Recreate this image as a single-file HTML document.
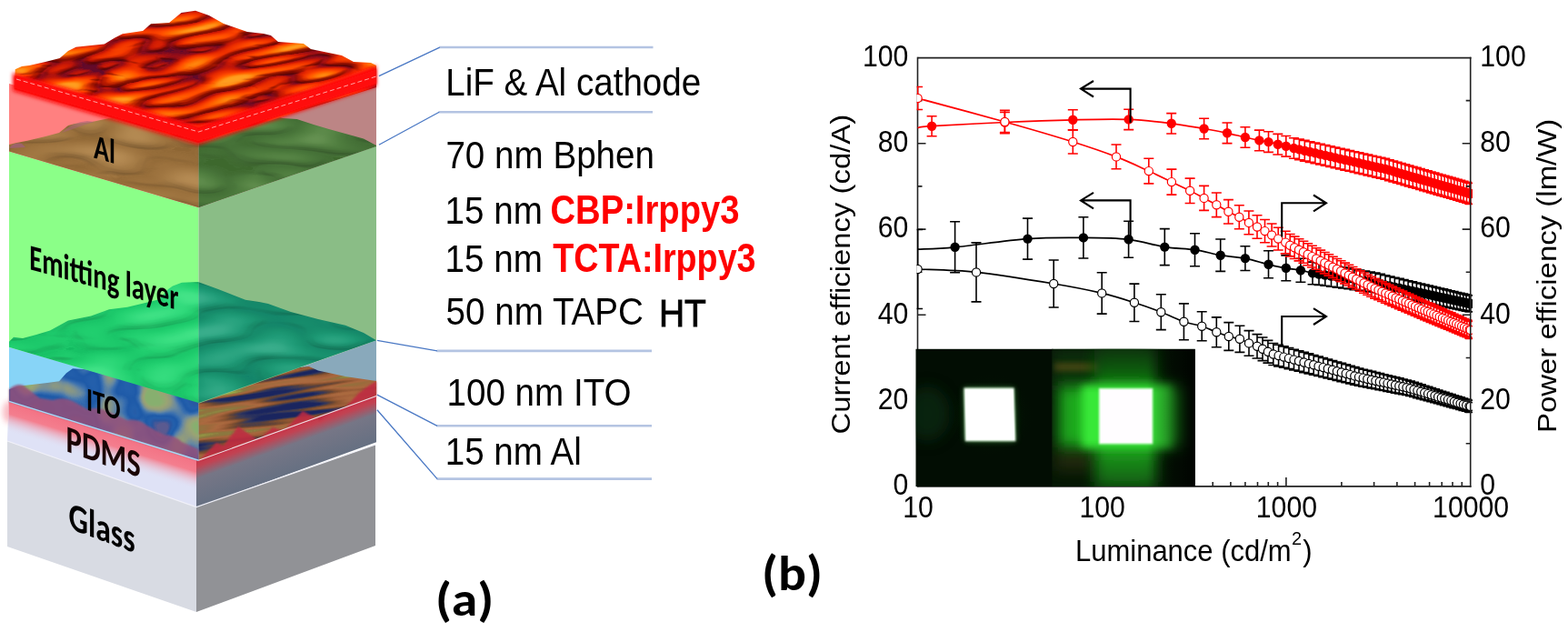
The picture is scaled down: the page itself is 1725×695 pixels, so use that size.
<!DOCTYPE html>
<html><head><meta charset="utf-8"><style>
html,body{margin:0;padding:0;background:#fff;}
body{width:1725px;height:695px;overflow:hidden;}
svg{display:block;}
.ax{font-family:"Liberation Sans",Arial,sans-serif;font-size:31px;fill:#000;}
.mt{font-family:"Liberation Sans",Arial,sans-serif;font-size:40px;fill:#000;}
.lab{font-family:Carlito,Calibri,"Liberation Sans",sans-serif;font-weight:bold;font-size:54px;fill:#000;}
.cal{font-family:Carlito,Calibri,"Liberation Sans",sans-serif;font-weight:bold;fill:#000;}
</style></head><body>
<svg width="1725" height="695" viewBox="0 0 1725 695">
<defs><clipPath id="cL"><rect x="0" y="0" width="218.5" height="695"/></clipPath><clipPath id="cR"><rect x="218.5" y="0" width="300" height="695"/></clipPath><clipPath id="cRed"><polygon points="16.7,76.3 24.0,73.0 32.3,71.9 50.0,68.0 65.7,64.0 75.0,56.0 83.6,51.8 100.0,50.0 114.8,48.5 125.9,41.8 134.8,37.3 157.1,34.0 166.0,26.2 186.1,25.0 199.5,13.9 215.0,11.7 230.0,17.0 246.0,26.0 272.0,35.0 290.0,37.0 298.0,39.0 306.0,46.0 334.0,48.0 342.0,54.0 376.0,61.0 389.0,68.0 408.0,69.0 414.0,72.0 414.0,96.0 218.0,157.0 16.0,98.0"/></clipPath><clipPath id="cAl"><polygon points="10.0,159.0 18.0,157.0 30.0,154.8 50.0,150.0 65.0,146.1 75.0,138.0 82.0,136.0 100.0,134.3 120.0,130.0 140.0,124.0 218.0,118.0 290.0,125.0 311.4,130.0 326.6,131.0 345.0,137.0 361.0,141.8 380.0,147.0 400.0,152.6 414.0,160.0 414.0,161.0 218.5,228.2 10.0,166.6"/></clipPath><clipPath id="cTeal"><polygon points="10.0,375.7 15.0,370.8 25.0,372.0 40.0,368.0 55.0,363.4 75.0,352.4 100.0,347.5 120.0,340.2 140.0,337.7 160.0,333.0 175.0,329.2 185.0,318.0 190.0,314.5 200.0,310.8 218.0,310.0 240.0,318.0 270.0,329.7 285.0,332.0 295.0,334.0 320.0,343.0 350.0,351.0 380.0,357.8 400.0,366.0 414.0,374.3 218.5,443.0 10.0,381.8"/></clipPath><clipPath id="cIto"><polygon points="10.0,428.3 20.0,424.7 50.0,421.3 65.0,419.3 73.0,410.2 80.0,405.2 95.0,406.2 110.0,405.0 218.0,400.0 320.0,402.0 330.0,404.0 340.0,403.0 350.0,407.4 380.0,414.0 414.0,419.0 414.0,435.5 218.5,506.3 10.0,441.4"/></clipPath><filter id="fRed" x="0" y="0" width="1" height="1" color-interpolation-filters="sRGB"><feTurbulence type="turbulence" baseFrequency="0.036 0.07" numOctaves="1" seed="9" result="n"/><feColorMatrix in="n" type="matrix" values="2.00 0 0 0 0.06  2.00 0 0 0 0.06  2.00 0 0 0 0.06  2.00 0 0 0 0.06" result="g0"/><feGaussianBlur in="g0" stdDeviation="1.00" result="g"/><feComponentTransfer in="g" result="c"><feFuncR type="table" tableValues="0.227 0.541 0.784 0.910 0.957 1.000 1.000 1.000 1.000"/><feFuncG type="table" tableValues="0.031 0.047 0.094 0.165 0.227 0.298 0.384 0.486 0.627"/><feFuncB type="table" tableValues="0.220 0.110 0.024 0.000 0.000 0.000 0.000 0.031 0.125"/><feFuncA type="linear" slope="0" intercept="1"/></feComponentTransfer><feComponentTransfer in="g" result="h"><feFuncA type="table" tableValues="0 0.45 0.7 0.85 0.95 1"/></feComponentTransfer><feDiffuseLighting in="h" surfaceScale="6.0" diffuseConstant="1.35" lighting-color="#fff" result="l0"><feDistantLight azimuth="225" elevation="50"/></feDiffuseLighting><feComponentTransfer in="l0" result="l"><feFuncR type="linear" slope="0.50" intercept="0.55"/><feFuncG type="linear" slope="0.75" intercept="0.28"/><feFuncB type="linear" slope="0.60" intercept="0.45"/></feComponentTransfer><feBlend in="c" in2="l" mode="multiply" result="m"/><feComposite in="m" in2="SourceGraphic" operator="in"/></filter><filter id="fAlL" x="0" y="0" width="1" height="1" color-interpolation-filters="sRGB"><feTurbulence type="turbulence" baseFrequency="0.045 0.035" numOctaves="1" seed="11" result="n"/><feColorMatrix in="n" type="matrix" values="2.00 0 0 0 0.00  2.00 0 0 0 0.00  2.00 0 0 0 0.00  2.00 0 0 0 0.00" result="g0"/><feGaussianBlur in="g0" stdDeviation="2.00" result="g"/><feComponentTransfer in="g" result="c"><feFuncR type="table" tableValues="0.557 0.612 0.651 0.690 0.729"/><feFuncG type="table" tableValues="0.400 0.447 0.486 0.525 0.565"/><feFuncB type="table" tableValues="0.204 0.243 0.275 0.310 0.345"/><feFuncA type="linear" slope="0" intercept="1"/></feComponentTransfer><feComponentTransfer in="g" result="h"><feFuncA type="table" tableValues="0 0.45 0.7 0.85 0.95 1"/></feComponentTransfer><feDiffuseLighting in="h" surfaceScale="2.0" diffuseConstant="1.30" lighting-color="#fff" result="l0"><feDistantLight azimuth="225" elevation="50"/></feDiffuseLighting><feComponentTransfer in="l0" result="l"><feFuncR type="linear" slope="0.40" intercept="0.62"/><feFuncG type="linear" slope="0.40" intercept="0.62"/><feFuncB type="linear" slope="0.40" intercept="0.62"/></feComponentTransfer><feBlend in="c" in2="l" mode="multiply" result="m"/><feComposite in="m" in2="SourceGraphic" operator="in"/></filter><filter id="fAlR" x="0" y="0" width="1" height="1" color-interpolation-filters="sRGB"><feTurbulence type="turbulence" baseFrequency="0.045 0.035" numOctaves="1" seed="11" result="n"/><feColorMatrix in="n" type="matrix" values="2.00 0 0 0 0.00  2.00 0 0 0 0.00  2.00 0 0 0 0.00  2.00 0 0 0 0.00" result="g0"/><feGaussianBlur in="g0" stdDeviation="2.00" result="g"/><feComponentTransfer in="g" result="c"><feFuncR type="table" tableValues="0.243 0.275 0.306 0.345 0.408"/><feFuncG type="table" tableValues="0.408 0.447 0.486 0.525 0.580"/><feFuncB type="table" tableValues="0.180 0.220 0.243 0.275 0.329"/><feFuncA type="linear" slope="0" intercept="1"/></feComponentTransfer><feComponentTransfer in="g" result="h"><feFuncA type="table" tableValues="0 0.45 0.7 0.85 0.95 1"/></feComponentTransfer><feDiffuseLighting in="h" surfaceScale="2.0" diffuseConstant="1.30" lighting-color="#fff" result="l0"><feDistantLight azimuth="225" elevation="50"/></feDiffuseLighting><feComponentTransfer in="l0" result="l"><feFuncR type="linear" slope="0.40" intercept="0.62"/><feFuncG type="linear" slope="0.40" intercept="0.62"/><feFuncB type="linear" slope="0.40" intercept="0.62"/></feComponentTransfer><feBlend in="c" in2="l" mode="multiply" result="m"/><feComposite in="m" in2="SourceGraphic" operator="in"/></filter><filter id="fTealL" x="0" y="0" width="1" height="1" color-interpolation-filters="sRGB"><feTurbulence type="turbulence" baseFrequency="0.045 0.035" numOctaves="1" seed="5" result="n"/><feColorMatrix in="n" type="matrix" values="2.00 0 0 0 0.00  2.00 0 0 0 0.00  2.00 0 0 0 0.00  2.00 0 0 0 0.00" result="g0"/><feGaussianBlur in="g0" stdDeviation="2.00" result="g"/><feComponentTransfer in="g" result="c"><feFuncR type="table" tableValues="0.078 0.110 0.133 0.165 0.204 0.267"/><feFuncG type="table" tableValues="0.737 0.784 0.816 0.839 0.863 0.894"/><feFuncB type="table" tableValues="0.384 0.416 0.439 0.463 0.494 0.533"/><feFuncA type="linear" slope="0" intercept="1"/></feComponentTransfer><feComponentTransfer in="g" result="h"><feFuncA type="table" tableValues="0 0.45 0.7 0.85 0.95 1"/></feComponentTransfer><feDiffuseLighting in="h" surfaceScale="2.0" diffuseConstant="1.30" lighting-color="#fff" result="l0"><feDistantLight azimuth="225" elevation="50"/></feDiffuseLighting><feComponentTransfer in="l0" result="l"><feFuncR type="linear" slope="0.40" intercept="0.62"/><feFuncG type="linear" slope="0.40" intercept="0.62"/><feFuncB type="linear" slope="0.40" intercept="0.62"/></feComponentTransfer><feBlend in="c" in2="l" mode="multiply" result="m"/><feComposite in="m" in2="SourceGraphic" operator="in"/></filter><filter id="fTealR" x="0" y="0" width="1" height="1" color-interpolation-filters="sRGB"><feTurbulence type="turbulence" baseFrequency="0.045 0.035" numOctaves="1" seed="5" result="n"/><feColorMatrix in="n" type="matrix" values="2.00 0 0 0 0.00  2.00 0 0 0 0.00  2.00 0 0 0 0.00  2.00 0 0 0 0.00" result="g0"/><feGaussianBlur in="g0" stdDeviation="2.00" result="g"/><feComponentTransfer in="g" result="c"><feFuncR type="table" tableValues="0.071 0.086 0.102 0.125 0.165 0.227"/><feFuncG type="table" tableValues="0.510 0.541 0.580 0.612 0.643 0.682"/><feFuncB type="table" tableValues="0.416 0.416 0.439 0.471 0.502 0.549"/><feFuncA type="linear" slope="0" intercept="1"/></feComponentTransfer><feComponentTransfer in="g" result="h"><feFuncA type="table" tableValues="0 0.45 0.7 0.85 0.95 1"/></feComponentTransfer><feDiffuseLighting in="h" surfaceScale="2.0" diffuseConstant="1.30" lighting-color="#fff" result="l0"><feDistantLight azimuth="225" elevation="50"/></feDiffuseLighting><feComponentTransfer in="l0" result="l"><feFuncR type="linear" slope="0.40" intercept="0.62"/><feFuncG type="linear" slope="0.40" intercept="0.62"/><feFuncB type="linear" slope="0.40" intercept="0.62"/></feComponentTransfer><feBlend in="c" in2="l" mode="multiply" result="m"/><feComposite in="m" in2="SourceGraphic" operator="in"/></filter><filter id="fItoL" x="0" y="0" width="1" height="1" color-interpolation-filters="sRGB"><feTurbulence type="fractalNoise" baseFrequency="0.07 0.022" numOctaves="2" seed="19" result="n"/><feColorMatrix in="n" type="matrix" values="2.10 0 0 0 -0.55  2.10 0 0 0 -0.55  2.10 0 0 0 -0.55  2.10 0 0 0 -0.55" result="g0"/><feGaussianBlur in="g0" stdDeviation="0.00" result="g"/><feComponentTransfer in="g" result="c"><feFuncR type="table" tableValues="0.353 0.165 0.141 0.118 0.227 0.416 0.557 0.604 0.533"/><feFuncG type="table" tableValues="0.353 0.337 0.376 0.353 0.439 0.541 0.604 0.643 0.690"/><feFuncB type="table" tableValues="0.565 0.627 0.675 0.659 0.690 0.627 0.502 0.455 0.439"/><feFuncA type="linear" slope="0" intercept="1"/></feComponentTransfer><feComposite in="c" in2="SourceGraphic" operator="in"/></filter><filter id="fItoR" x="0" y="0" width="1" height="1" color-interpolation-filters="sRGB"><feTurbulence type="fractalNoise" baseFrequency="0.008 0.11" numOctaves="2" seed="23" result="n"/><feColorMatrix in="n" type="matrix" values="2.20 0 0 0 -0.60  2.20 0 0 0 -0.60  2.20 0 0 0 -0.60  2.20 0 0 0 -0.60" result="g0"/><feGaussianBlur in="g0" stdDeviation="0.00" result="g"/><feComponentTransfer in="g" result="c"><feFuncR type="table" tableValues="0.102 0.204 0.369 0.525 0.627 0.675 0.612 0.541 0.604"/><feFuncG type="table" tableValues="0.149 0.220 0.259 0.322 0.376 0.416 0.416 0.478 0.667"/><feFuncB type="table" tableValues="0.376 0.361 0.220 0.184 0.227 0.251 0.235 0.251 0.282"/><feFuncA type="linear" slope="0" intercept="1"/></feComponentTransfer><feComposite in="c" in2="SourceGraphic" operator="in"/></filter><filter id="bl4" x="-30%" y="-60%" width="160%" height="220%"><feGaussianBlur stdDeviation="3"/></filter><filter id="bl25" x="-10%" y="-60%" width="120%" height="220%"><feGaussianBlur stdDeviation="2.2"/></filter><filter id="bl1s" x="-5%" y="-30%" width="110%" height="160%"><feGaussianBlur stdDeviation="0.8"/></filter><linearGradient id="gPdmsL" gradientUnits="userSpaceOnUse" x1="0" y1="0" x2="0" y2="1"><stop offset="0" stop-color="#f5788a"/><stop offset="1" stop-color="#dfe3f7"/></linearGradient><linearGradient id="gPL" x1="0" y1="0" x2="0" y2="1"><stop offset="0" stop-color="#f37284"/><stop offset="0.4" stop-color="#f47e8e"/><stop offset="1" stop-color="#dfe2f6" stop-opacity="0"/></linearGradient><clipPath id="cOutL"><rect x="0" y="400" width="9.5" height="100"/></clipPath><linearGradient id="gPR" x1="0" y1="0" x2="0" y2="1"><stop offset="0" stop-color="#c8364a"/><stop offset="0.14" stop-color="#c24252"/><stop offset="0.4" stop-color="#767686"/><stop offset="1" stop-color="#667082"/></linearGradient></defs>
<polygon points="8.0,485.0 216.0,557.5 216.0,673.0 8.0,601.0" fill="#d8dbe3"/>
<polygon points="216.0,557.5 413.0,489.0 413.0,600.0 216.0,673.0" fill="#919296"/>
<polygon points="9.5,441.4 217.0,506.0 216.0,557.5 8.0,485.0" fill="#dfe2f6"/>
<g transform="skewY(17.2)"><rect x="9.5" y="438.4" width="207" height="34" fill="url(#gPL)"/></g>
<g clip-path="url(#cOutL)"><ellipse cx="10" cy="453" rx="7" ry="12" fill="#f8aab4" opacity="0.8" filter="url(#bl4)"/></g>
<g transform="skewY(-19.9)"><rect x="216" y="584.2" width="198" height="52" fill="url(#gPR)"/></g>
<polygon points="10.0,381.8 218.5,441.7 218.5,506.3 10.0,441.4" fill="#87d4f7"/>
<polygon points="218.5,443.8 414.0,374.3 414.0,435.5 218.5,506.3" fill="#89a9bb"/>
<g clip-path="url(#cL)"><g clip-path="url(#cIto)"><g transform="matrix(-2.0400,0.6940,2.0000,0.6350,214.00,372.00)"><g transform="rotate(-45 50 50)"><rect x="-40" y="-40" width="180" height="180" fill="#fff" filter="url(#fItoL)"/></g></g></g></g>
<g clip-path="url(#cR)"><g clip-path="url(#cIto)"><g transform="rotate(-8 316 450)"><rect x="200" y="360" width="240" height="170" fill="#fff" filter="url(#fItoR)"/></g></g></g>
<path d="M10,441.4 L10,428 Q18,421 26,424 L44,438 L58,440 Q70,436 80,441 L96,450 Q110,447 122,454 L140,462 Q152,460 162,468 L180,478 Q192,478 200,486 L218.5,494 L218.5,506.3 Z" fill="#94507a" opacity="0.85" filter="url(#bl1s)"/>
<path d="M219,506.3 L238,487 L246,490 L262,469 L284,484 L300,470 L312,474 L333,452 L352,462 L366,452 L380,448 L395,432 L406,424 L414,419 L414,436 L218.5,506.3 Z" fill="#c02a42" opacity="0.88" filter="url(#bl1s)"/>
<polyline points="10.0,441.4 218.5,506.3" fill="none" stroke="#a8d8f4" stroke-width="1.5"/>
<polyline points="218.5,506.3 414.0,435.5" fill="none" stroke="#f4dce4" stroke-width="1.1"/>
<polyline points="8.0,485.0 216.0,557.5 413.0,489.0" fill="none" stroke="#f0f0f8" stroke-width="1.2"/>
<polygon points="10.0,166.6 218.5,228.2 218.5,441.7 10.0,381.8" fill="#8bff88"/>
<polygon points="218.5,228.2 414.0,160.8 414.0,374.3 218.5,443.8" fill="#8abd86"/>
<g clip-path="url(#cL)"><g clip-path="url(#cTeal)"><g transform="matrix(-2.0400,0.6880,2.0000,0.6130,214.00,313.00)"><rect x="-40" y="-40" width="180" height="180" fill="#fff" filter="url(#fTealL)"/></g></g></g>
<g clip-path="url(#cR)"><g clip-path="url(#cTeal)"><g transform="matrix(-2.0400,0.6880,2.0000,0.6130,214.00,313.00)"><rect x="-40" y="-40" width="180" height="180" fill="#fff" filter="url(#fTealR)"/></g></g></g>
<polygon points="10.0,92.0 218.5,152.0 218.5,228.2 10.0,166.6" fill="#ff8080"/>
<polygon points="218.5,152.0 414.0,92.0 414.0,160.8 218.5,228.2" fill="#bc8585"/>
<g clip-path="url(#cL)"><g clip-path="url(#cAl)"><g transform="matrix(-2.0400,0.6660,2.0000,0.6080,214.00,100.00)"><rect x="-40" y="-40" width="180" height="180" fill="#fff" filter="url(#fAlL)"/></g></g></g>
<g clip-path="url(#cR)"><g clip-path="url(#cAl)"><g transform="matrix(-2.0400,0.6660,2.0000,0.6080,214.00,100.00)"><rect x="-40" y="-40" width="180" height="180" fill="#fff" filter="url(#fAlR)"/></g></g></g>
<path d="M10,163 Q16,156 24,158 L28,162 Z" fill="#a06078" opacity="0.8"/>
<path d="M68,146 Q80,134 96,133 L104,134 Q90,138 80,142 Z" fill="#a46478" opacity="0.55"/>
<g clip-path="url(#cRed)"><g transform="matrix(-1.9600,0.6100,2.0000,0.5800,214.00,26.00)"><rect x="-30" y="-30" width="160" height="160" fill="#fff" filter="url(#fRed)"/></g></g>
<polygon points="14.0,80.0 218.5,138.0 414.0,72.0 414.0,95.0 218.5,159.0 14.0,100.0" fill="#ff0a0a" filter="url(#bl25)"/>
<polygon points="16.0,84.0 218.5,141.5 414.0,76.0 414.0,92.0 218.5,155.5 16.0,97.0" fill="#ff0808" filter="url(#bl1s)"/>
<polyline points="18.0,87.0 218.5,145.0 414.0,84.0" fill="none" stroke="#ffc8c8" stroke-width="1" stroke-dasharray="5 3" opacity="0.8"/>
<text transform="translate(32.2,296) skewY(15.3) scale(0.718,1)" class="cal" style="font-size:40px" textLength="228.76" lengthAdjust="spacingAndGlyphs">Emitting layer</text>
<text transform="translate(103,173.6) skewY(15.3) scale(0.74,1)" class="cal" style="font-size:38px" textLength="32.36" lengthAdjust="spacingAndGlyphs">Al</text>
<text transform="translate(95,450.5) skewY(17.5) scale(0.74,1)" class="cal" style="font-size:36px" textLength="50.79" lengthAdjust="spacingAndGlyphs">ITO</text>
<text transform="translate(72.5,496) skewY(19.8) scale(0.78,1)" class="cal" style="font-size:42px;fill:#1a0505" textLength="105.35" lengthAdjust="spacingAndGlyphs">PDMS</text>
<text transform="translate(75.5,581) skewY(20.5) scale(0.774,1)" class="cal" style="font-size:43.5px" textLength="94.57" lengthAdjust="spacingAndGlyphs">Glass</text>
<path d="M483.2,52H718.5M482.7,123.3H718M480.5,385.9H717M480.5,468.2H717M480.5,526.6H717" fill="none" stroke="#b4c4e2" stroke-width="2.6"/>
<path d="M416.9,83.7L483.7,52.2M416.9,159.2L483.2,123.3M414.9,374.4L481,385.9M414.9,434.1L481,468.3M414.9,450.7L481,526.6" fill="none" stroke="#4a78c4" stroke-width="1.3"/>
<text transform="translate(490.2,104.7) scale(0.965,1.07)" class="mt">LiF &amp; Al cathode</text>
<text transform="translate(490.4,185.3) scale(0.965,1.07)" class="mt">70 nm Bphen</text>
<text transform="translate(489.6,245.6) scale(0.965,1.07)" class="mt">15 nm</text>
<text transform="translate(605.4,245.6) scale(0.956,1.1)" class="mt" style="fill:#f00;font-weight:bold">CBP:Irppy3</text>
<text transform="translate(489.6,298.8) scale(0.965,1.07)" class="mt">15 nm</text>
<text transform="translate(608.3,298.8) scale(0.942,1.1)" class="mt" style="fill:#f00;font-weight:bold">TCTA:Irppy3</text>
<text transform="translate(490.6,357.3) scale(0.965,1.07)" class="mt">50 nm TAPC</text>
<text transform="translate(724.9,359.0) scale(0.975,1.065)" class="mt" style="stroke:#000;stroke-width:0.9px">HT</text>
<text transform="translate(491.5,445.6) scale(0.965,1.07)" class="mt">100 nm ITO</text>
<text transform="translate(489.7,511.2) scale(0.965,1.07)" class="mt">15 nm Al</text>
<text transform="translate(478.9,677.3) scale(1.068,0.99)" class="lab" textLength="60.30" lengthAdjust="spacingAndGlyphs">(a)</text>
<text transform="translate(838.1,648.8) scale(1.068,1.0)" class="lab" textLength="62.62" lengthAdjust="spacingAndGlyphs">(b)</text>
<g id="chart">
<path d="M1618.5,63.6V63.6H1009.5M1009.5,534.9H1618.5" fill="none" stroke="#222" stroke-width="1.6"/>
<path d="M1009.5,62.8V535.7" fill="none" stroke="#222" stroke-width="1.6"/>
<path d="M1009.5,487.8H1014.5M1009.5,440.6H1018.5M1009.5,393.5H1014.5M1009.5,346.3H1018.5M1009.5,299.2H1014.5M1009.5,252.1H1018.5M1009.5,204.9H1014.5M1009.5,157.8H1018.5M1009.5,110.6H1014.5M1070.5,534.9V529.9M1106.2,534.9V529.9M1131.5,534.9V529.9M1151.2,534.9V529.9M1167.2,534.9V529.9M1180.8,534.9V529.9M1192.6,534.9V529.9M1202.9,534.9V529.9M1212.2,534.9V524.9M1273.2,534.9V529.9M1308.9,534.9V529.9M1334.2,534.9V529.9M1353.9,534.9V529.9M1369.9,534.9V529.9M1383.5,534.9V529.9M1395.3,534.9V529.9M1405.6,534.9V529.9M1414.9,534.9V524.9M1475.9,534.9V529.9M1511.6,534.9V529.9M1536.9,534.9V529.9M1556.6,534.9V529.9M1572.6,534.9V529.9M1586.2,534.9V529.9M1598.0,534.9V529.9M1608.3,534.9V529.9" fill="none" stroke="#222" stroke-width="1.6"/>
<clipPath id="plotclip"><rect x="1008.6" y="60" width="611.4" height="480"/></clipPath>
<g clip-path="url(#plotclip)">
<path d="M1009.5,296.0 C1020.2,296.6 1049.0,296.7 1074.0,299.4 C1099.0,302.1 1136.2,308.2 1159.2,312.0 C1182.2,315.8 1197.4,318.9 1212.2,322.4 C1227.0,325.9 1237.1,329.3 1247.9,332.8 C1258.8,336.3 1268.2,339.7 1277.3,343.2 C1286.4,346.7 1294.9,351.2 1302.4,353.8 C1309.9,356.4 1316.2,356.8 1322.2,358.7 C1328.2,360.6 1333.4,363.4 1338.3,365.3 C1343.2,367.2 1347.5,368.8 1351.8,370.0 C1356.1,371.2 1360.2,371.6 1363.9,372.8 C1367.6,374.0 1370.8,376.1 1374.0,377.4 C1377.2,378.7 1380.5,379.7 1383.0,380.8 C1385.5,381.9 1387.0,382.8 1389.0,383.8 C1391.0,384.8 1393.0,385.8 1394.9,386.8 C1396.9,387.7 1398.8,388.8 1400.8,389.5 C1402.7,390.2 1404.7,390.5 1406.6,391.1 C1408.5,391.6 1410.4,392.1 1412.3,392.6 C1414.2,393.1 1416.1,393.6 1417.9,394.1 C1419.8,394.6 1421.7,395.1 1423.5,395.6 C1425.4,396.1 1427.2,396.5 1429.0,397.0 C1430.9,397.5 1432.7,398.0 1434.5,398.5 C1436.3,399.0 1438.1,399.4 1439.9,399.9 C1441.7,400.4 1443.4,400.9 1445.2,401.3 C1447.0,401.8 1448.7,402.3 1450.5,402.7 C1452.2,403.2 1453.9,403.7 1455.7,404.1 C1457.4,404.6 1459.1,405.0 1460.8,405.5 C1462.5,405.9 1464.2,406.4 1465.9,406.8 C1467.5,407.3 1469.2,407.7 1470.9,408.2 C1472.5,408.6 1474.2,409.1 1475.8,409.5 C1477.5,409.9 1479.1,410.4 1480.7,410.8 C1482.3,411.2 1483.9,411.7 1485.5,412.1 C1487.2,412.5 1488.7,412.9 1490.3,413.4 C1491.9,413.8 1493.5,414.2 1495.0,414.6 C1496.6,415.0 1498.2,415.3 1499.7,415.6 C1501.3,416.0 1502.8,416.3 1504.3,416.7 C1505.8,417.0 1507.4,417.3 1508.9,417.7 C1510.4,418.0 1511.9,418.3 1513.4,418.7 C1514.9,419.0 1516.3,419.3 1517.8,419.7 C1519.3,420.0 1520.7,420.3 1522.2,420.6 C1523.7,421.0 1525.1,421.3 1526.5,421.6 C1528.0,421.9 1529.4,422.2 1530.8,422.5 C1532.3,422.9 1533.7,423.2 1535.1,423.5 C1536.5,423.8 1537.9,424.1 1539.3,424.4 C1540.6,424.7 1542.0,425.0 1543.4,425.3 C1544.8,425.6 1546.1,425.9 1547.5,426.2 C1548.8,426.6 1550.2,426.9 1551.5,427.3 C1552.9,427.6 1554.2,428.0 1555.5,428.4 C1556.8,428.8 1558.1,429.2 1559.4,429.6 C1560.8,430.0 1562.0,430.4 1563.3,430.8 C1564.6,431.2 1565.9,431.5 1567.2,431.9 C1568.5,432.3 1569.7,432.7 1571.0,433.1 C1572.3,433.4 1573.5,433.8 1574.7,434.2 C1576.0,434.6 1577.2,434.9 1578.5,435.3 C1579.7,435.7 1580.9,436.0 1582.1,436.4 C1583.3,436.7 1584.6,437.1 1585.8,437.5 C1587.0,437.8 1588.1,438.2 1589.3,438.5 C1590.5,438.9 1591.7,439.2 1592.9,439.6 C1594.0,439.9 1595.2,440.3 1596.4,440.6 C1597.5,441.0 1598.7,441.3 1599.8,441.7 C1601.0,442.0 1602.1,442.3 1603.2,442.7 C1604.4,443.0 1605.5,443.4 1606.6,443.7 C1607.7,444.0 1608.8,444.4 1609.9,444.7 C1611.0,445.0 1612.1,445.3 1613.2,445.7 C1614.3,446.0 1615.7,446.4 1616.5,446.6 C1617.2,446.9 1617.5,446.9 1617.7,447.0" fill="none" stroke="#000" stroke-width="1.7"/>
<path d="M1009.6,252.5V339.5M1004.1,252.5H1015.1M1004.1,339.5H1015.1M1074.0,266.9V331.9M1068.5,266.9H1079.5M1068.5,331.9H1079.5M1159.2,286.0V338.0M1153.7,286.0H1164.7M1153.7,338.0H1164.7M1212.2,299.7V345.1M1206.7,299.7H1217.7M1206.7,345.1H1217.7M1247.9,312.1V353.5M1242.4,312.1H1253.4M1242.4,353.5H1253.4M1277.3,323.8V362.6M1271.8,323.8H1282.8M1271.8,362.6H1282.8M1302.4,333.9V373.7M1296.9,333.9H1307.9M1296.9,373.7H1307.9M1322.2,342.7V374.7M1316.7,342.7H1327.7M1316.7,374.7H1327.7M1338.3,348.9V381.7M1332.8,348.9H1343.8M1332.8,381.7H1343.8M1351.8,354.6V385.4M1346.3,354.6H1357.3M1346.3,385.4H1357.3M1363.9,358.2V387.4M1358.4,358.2H1369.4M1358.4,387.4H1369.4M1374.0,363.6V391.2M1368.5,363.6H1379.5M1368.5,391.2H1379.5M1383.0,367.6V394.0M1377.5,367.6H1388.5M1377.5,394.0H1388.5M1389.0,371.0V396.6M1383.5,371.0H1394.5M1383.5,396.6H1394.5M1394.9,374.4V399.1M1389.4,374.4H1400.4M1389.4,399.1H1400.4M1400.8,377.5V401.5M1395.3,377.5H1406.3M1395.3,401.5H1406.3M1406.6,379.2V402.9M1401.1,379.2H1412.1M1401.1,402.9H1412.1M1412.3,380.9V404.3M1406.8,380.9H1417.8M1406.8,404.3H1417.8M1417.9,382.5V405.6M1412.4,382.5H1423.4M1412.4,405.6H1423.4M1423.5,384.2V407.0M1418.0,384.2H1429.0M1418.0,407.0H1429.0M1429.0,385.8V408.3M1423.5,385.8H1434.5M1423.5,408.3H1434.5M1434.5,387.4V409.6M1429.0,387.4H1440.0M1429.0,409.6H1440.0M1439.9,388.9V410.9M1434.4,388.9H1445.4M1434.4,410.9H1445.4M1445.2,390.5V412.2M1439.7,390.5H1450.7M1439.7,412.2H1450.7M1450.5,392.0V413.5M1445.0,392.0H1456.0M1445.0,413.5H1456.0M1455.7,393.5V414.7M1450.2,393.5H1461.2M1450.2,414.7H1461.2M1460.8,395.0V416.0M1455.3,395.0H1466.3M1455.3,416.0H1466.3M1465.9,396.5V417.2M1460.4,396.5H1471.4M1460.4,417.2H1471.4M1470.9,398.0V418.4M1465.4,398.0H1476.4M1465.4,418.4H1476.4M1475.8,399.4V419.6M1470.3,399.4H1481.3M1470.3,419.6H1481.3M1480.7,400.8V420.8M1475.2,400.8H1486.2M1475.2,420.8H1486.2M1485.5,402.2V421.9M1480.0,402.2H1491.0M1480.0,421.9H1491.0M1490.3,403.6V423.1M1484.8,403.6H1495.8M1484.8,423.1H1495.8M1495.0,405.0V424.2M1489.5,405.0H1500.5M1489.5,424.2H1500.5M1499.7,406.2V425.1M1494.2,406.2H1505.2M1494.2,425.1H1505.2M1504.3,407.3V426.0M1498.8,407.3H1509.8M1498.8,426.0H1509.8M1508.9,408.4V426.9M1503.4,408.4H1514.4M1503.4,426.9H1514.4M1513.4,409.5V427.8M1507.9,409.5H1518.9M1507.9,427.8H1518.9M1517.8,410.6V428.7M1512.3,410.6H1523.3M1512.3,428.7H1523.3M1522.2,411.7V429.5M1516.7,411.7H1527.7M1516.7,429.5H1527.7M1526.5,412.8V430.4M1521.0,412.8H1532.0M1521.0,430.4H1532.0M1530.8,413.9V431.2M1525.3,413.9H1536.3M1525.3,431.2H1536.3M1535.1,414.9V432.1M1529.6,414.9H1540.6M1529.6,432.1H1540.6M1539.3,415.9V432.9M1533.8,415.9H1544.8M1533.8,432.9H1544.8M1543.4,417.0V433.7M1537.9,417.0H1548.9M1537.9,433.7H1548.9M1547.5,418.0V434.5M1542.0,418.0H1553.0M1542.0,434.5H1553.0M1551.5,419.1V435.4M1546.0,419.1H1557.0M1546.0,435.4H1557.0M1555.5,420.4V436.5M1550.0,420.4H1561.0M1550.0,436.5H1561.0M1559.4,421.6V437.6M1553.9,421.6H1564.9M1553.9,437.6H1564.9M1563.3,422.9V438.7M1557.8,422.9H1568.8M1557.8,438.7H1568.8M1567.2,424.2V439.7M1561.7,424.2H1572.7M1561.7,439.7H1572.7M1571.0,425.4V440.7M1565.5,425.4H1576.5M1565.5,440.7H1576.5M1574.7,426.6V441.8M1569.2,426.6H1580.2M1569.2,441.8H1580.2M1578.5,427.8V442.8M1573.0,427.8H1584.0M1573.0,442.8H1584.0M1582.1,429.0V443.8M1576.6,429.0H1587.6M1576.6,443.8H1587.6M1585.8,430.2V444.8M1580.3,430.2H1591.3M1580.3,444.8H1591.3M1589.3,431.3V445.8M1583.8,431.3H1594.8M1583.8,445.8H1594.8M1592.9,432.5V446.7M1587.4,432.5H1598.4M1587.4,446.7H1598.4M1596.4,433.6V447.7M1590.9,433.6H1601.9M1590.9,447.7H1601.9M1599.8,434.7V448.6M1594.3,434.7H1605.3M1594.3,448.6H1605.3M1603.2,435.8V449.5M1597.7,435.8H1608.7M1597.7,449.5H1608.7M1606.6,436.9V450.5M1601.1,436.9H1612.1M1601.1,450.5H1612.1M1609.9,438.0V451.4M1604.4,438.0H1615.4M1604.4,451.4H1615.4M1613.2,439.1V452.3M1607.7,439.1H1618.7M1607.7,452.3H1618.7M1616.5,440.1V453.2M1611.0,440.1H1622.0M1611.0,453.2H1622.0M1617.7,440.5V453.5M1612.2,440.5H1623.2M1612.2,453.5H1623.2" fill="none" stroke="#000" stroke-width="1.6"/>
<circle cx="1009.6" cy="296.0" r="4.6" fill="#fff" stroke="#000" stroke-width="1.2"/>
<circle cx="1074.0" cy="299.4" r="4.6" fill="#fff" stroke="#000" stroke-width="1.2"/>
<circle cx="1159.2" cy="312.0" r="4.6" fill="#fff" stroke="#000" stroke-width="1.2"/>
<circle cx="1212.2" cy="322.4" r="4.6" fill="#fff" stroke="#000" stroke-width="1.2"/>
<circle cx="1247.9" cy="332.8" r="4.6" fill="#fff" stroke="#000" stroke-width="1.2"/>
<circle cx="1277.3" cy="343.2" r="4.6" fill="#fff" stroke="#000" stroke-width="1.2"/>
<circle cx="1302.4" cy="353.8" r="4.6" fill="#fff" stroke="#000" stroke-width="1.2"/>
<circle cx="1322.2" cy="358.7" r="4.6" fill="#fff" stroke="#000" stroke-width="1.2"/>
<circle cx="1338.3" cy="365.3" r="4.6" fill="#fff" stroke="#000" stroke-width="1.2"/>
<circle cx="1351.8" cy="370.0" r="4.6" fill="#fff" stroke="#000" stroke-width="1.2"/>
<circle cx="1363.9" cy="372.8" r="4.6" fill="#fff" stroke="#000" stroke-width="1.2"/>
<circle cx="1374.0" cy="377.4" r="4.6" fill="#fff" stroke="#000" stroke-width="1.2"/>
<circle cx="1383.0" cy="380.8" r="4.6" fill="#fff" stroke="#000" stroke-width="1.2"/>
<circle cx="1389.0" cy="383.8" r="4.6" fill="#fff" stroke="#000" stroke-width="1.2"/>
<circle cx="1394.9" cy="386.8" r="4.6" fill="#fff" stroke="#000" stroke-width="1.2"/>
<circle cx="1400.8" cy="389.5" r="4.6" fill="#fff" stroke="#000" stroke-width="1.2"/>
<circle cx="1406.6" cy="391.1" r="4.6" fill="#fff" stroke="#000" stroke-width="1.2"/>
<circle cx="1412.3" cy="392.6" r="4.6" fill="#fff" stroke="#000" stroke-width="1.2"/>
<circle cx="1417.9" cy="394.1" r="4.6" fill="#fff" stroke="#000" stroke-width="1.2"/>
<circle cx="1423.5" cy="395.6" r="4.6" fill="#fff" stroke="#000" stroke-width="1.2"/>
<circle cx="1429.0" cy="397.0" r="4.6" fill="#fff" stroke="#000" stroke-width="1.2"/>
<circle cx="1434.5" cy="398.5" r="4.6" fill="#fff" stroke="#000" stroke-width="1.2"/>
<circle cx="1439.9" cy="399.9" r="4.6" fill="#fff" stroke="#000" stroke-width="1.2"/>
<circle cx="1445.2" cy="401.3" r="4.6" fill="#fff" stroke="#000" stroke-width="1.2"/>
<circle cx="1450.5" cy="402.7" r="4.6" fill="#fff" stroke="#000" stroke-width="1.2"/>
<circle cx="1455.7" cy="404.1" r="4.6" fill="#fff" stroke="#000" stroke-width="1.2"/>
<circle cx="1460.8" cy="405.5" r="4.6" fill="#fff" stroke="#000" stroke-width="1.2"/>
<circle cx="1465.9" cy="406.8" r="4.6" fill="#fff" stroke="#000" stroke-width="1.2"/>
<circle cx="1470.9" cy="408.2" r="4.6" fill="#fff" stroke="#000" stroke-width="1.2"/>
<circle cx="1475.8" cy="409.5" r="4.6" fill="#fff" stroke="#000" stroke-width="1.2"/>
<circle cx="1480.7" cy="410.8" r="4.6" fill="#fff" stroke="#000" stroke-width="1.2"/>
<circle cx="1485.5" cy="412.1" r="4.6" fill="#fff" stroke="#000" stroke-width="1.2"/>
<circle cx="1490.3" cy="413.4" r="4.6" fill="#fff" stroke="#000" stroke-width="1.2"/>
<circle cx="1495.0" cy="414.6" r="4.6" fill="#fff" stroke="#000" stroke-width="1.2"/>
<circle cx="1499.7" cy="415.6" r="4.6" fill="#fff" stroke="#000" stroke-width="1.2"/>
<circle cx="1504.3" cy="416.7" r="4.6" fill="#fff" stroke="#000" stroke-width="1.2"/>
<circle cx="1508.9" cy="417.7" r="4.6" fill="#fff" stroke="#000" stroke-width="1.2"/>
<circle cx="1513.4" cy="418.7" r="4.6" fill="#fff" stroke="#000" stroke-width="1.2"/>
<circle cx="1517.8" cy="419.7" r="4.6" fill="#fff" stroke="#000" stroke-width="1.2"/>
<circle cx="1522.2" cy="420.6" r="4.6" fill="#fff" stroke="#000" stroke-width="1.2"/>
<circle cx="1526.5" cy="421.6" r="4.6" fill="#fff" stroke="#000" stroke-width="1.2"/>
<circle cx="1530.8" cy="422.5" r="4.6" fill="#fff" stroke="#000" stroke-width="1.2"/>
<circle cx="1535.1" cy="423.5" r="4.6" fill="#fff" stroke="#000" stroke-width="1.2"/>
<circle cx="1539.3" cy="424.4" r="4.6" fill="#fff" stroke="#000" stroke-width="1.2"/>
<circle cx="1543.4" cy="425.3" r="4.6" fill="#fff" stroke="#000" stroke-width="1.2"/>
<circle cx="1547.5" cy="426.2" r="4.6" fill="#fff" stroke="#000" stroke-width="1.2"/>
<circle cx="1551.5" cy="427.3" r="4.6" fill="#fff" stroke="#000" stroke-width="1.2"/>
<circle cx="1555.5" cy="428.4" r="4.6" fill="#fff" stroke="#000" stroke-width="1.2"/>
<circle cx="1559.4" cy="429.6" r="4.6" fill="#fff" stroke="#000" stroke-width="1.2"/>
<circle cx="1563.3" cy="430.8" r="4.6" fill="#fff" stroke="#000" stroke-width="1.2"/>
<circle cx="1567.2" cy="431.9" r="4.6" fill="#fff" stroke="#000" stroke-width="1.2"/>
<circle cx="1571.0" cy="433.1" r="4.6" fill="#fff" stroke="#000" stroke-width="1.2"/>
<circle cx="1574.7" cy="434.2" r="4.6" fill="#fff" stroke="#000" stroke-width="1.2"/>
<circle cx="1578.5" cy="435.3" r="4.6" fill="#fff" stroke="#000" stroke-width="1.2"/>
<circle cx="1582.1" cy="436.4" r="4.6" fill="#fff" stroke="#000" stroke-width="1.2"/>
<circle cx="1585.8" cy="437.5" r="4.6" fill="#fff" stroke="#000" stroke-width="1.2"/>
<circle cx="1589.3" cy="438.5" r="4.6" fill="#fff" stroke="#000" stroke-width="1.2"/>
<circle cx="1592.9" cy="439.6" r="4.6" fill="#fff" stroke="#000" stroke-width="1.2"/>
<circle cx="1596.4" cy="440.6" r="4.6" fill="#fff" stroke="#000" stroke-width="1.2"/>
<circle cx="1599.8" cy="441.7" r="4.6" fill="#fff" stroke="#000" stroke-width="1.2"/>
<circle cx="1603.2" cy="442.7" r="4.6" fill="#fff" stroke="#000" stroke-width="1.2"/>
<circle cx="1606.6" cy="443.7" r="4.6" fill="#fff" stroke="#000" stroke-width="1.2"/>
<circle cx="1609.9" cy="444.7" r="4.6" fill="#fff" stroke="#000" stroke-width="1.2"/>
<circle cx="1613.2" cy="445.7" r="4.6" fill="#fff" stroke="#000" stroke-width="1.2"/>
<circle cx="1616.5" cy="446.6" r="4.6" fill="#fff" stroke="#000" stroke-width="1.2"/>
<circle cx="1617.7" cy="447.0" r="4.6" fill="#fff" stroke="#000" stroke-width="1.2"/>
<path d="M1009.5,274.1 C1016.4,273.7 1030.4,273.7 1050.6,271.8 C1070.8,269.9 1107.0,264.3 1130.5,262.6 C1154.0,260.9 1173.4,261.3 1191.9,261.4 C1210.4,261.5 1226.7,261.6 1241.6,263.3 C1256.5,265.0 1269.1,269.7 1281.3,271.6 C1293.5,273.5 1304.3,273.2 1314.5,274.7 C1324.7,276.2 1333.5,279.1 1342.7,280.7 C1351.9,282.3 1361.1,282.4 1369.9,284.1 C1378.7,285.8 1388.0,289.0 1395.5,290.8 C1403.0,292.6 1408.9,293.7 1414.8,294.8 C1420.7,295.9 1426.0,296.3 1430.9,297.2 C1435.8,298.1 1440.7,299.7 1444.0,300.4 C1447.3,301.1 1448.7,301.1 1451.0,301.5 C1453.3,301.8 1455.6,302.1 1457.8,302.5 C1460.1,302.8 1462.3,303.2 1464.5,303.5 C1466.8,303.8 1468.9,304.2 1471.1,304.5 C1473.3,304.8 1475.4,305.1 1477.5,305.5 C1479.6,305.8 1481.7,306.1 1483.8,306.4 C1485.8,306.7 1487.9,307.0 1489.9,307.3 C1491.9,307.6 1493.9,307.9 1495.9,308.2 C1497.9,308.5 1499.8,308.8 1501.8,309.1 C1503.7,309.4 1505.6,309.7 1507.5,310.0 C1509.4,310.3 1511.3,310.6 1513.1,311.0 C1515.0,311.3 1516.8,311.8 1518.6,312.2 C1520.4,312.6 1522.2,313.0 1524.0,313.4 C1525.7,313.8 1527.5,314.2 1529.2,314.5 C1530.9,314.9 1532.7,315.3 1534.3,315.7 C1536.0,316.1 1537.7,316.4 1539.4,316.8 C1541.0,317.2 1542.7,317.5 1544.3,317.9 C1545.9,318.2 1547.5,318.6 1549.1,319.0 C1550.7,319.3 1552.2,319.7 1553.8,320.0 C1555.3,320.3 1556.9,320.7 1558.4,321.0 C1559.9,321.4 1561.4,321.7 1562.9,322.0 C1564.4,322.3 1565.8,322.7 1567.3,323.0 C1568.7,323.3 1570.2,323.6 1571.6,323.9 C1573.0,324.2 1574.4,324.5 1575.8,324.8 C1577.2,325.1 1578.6,325.4 1579.9,325.7 C1581.3,326.0 1582.6,326.3 1583.9,326.6 C1585.3,326.9 1586.6,327.2 1587.9,327.5 C1589.2,327.8 1590.5,328.0 1591.7,328.3 C1593.0,328.6 1594.3,328.9 1595.5,329.1 C1596.7,329.4 1598.0,329.7 1599.2,330.0 C1600.4,330.2 1601.6,330.5 1602.8,330.7 C1604.0,331.0 1605.2,331.3 1606.3,331.5 C1607.5,331.8 1608.6,332.0 1609.8,332.3 C1610.9,332.5 1612.0,332.8 1613.1,333.0 C1614.3,333.2 1615.7,333.6 1616.4,333.7 C1617.2,333.9 1617.5,334.0 1617.7,334.0" fill="none" stroke="#000" stroke-width="1.7"/>
<path d="M1050.6,243.8V299.8M1045.1,243.8H1056.1M1045.1,299.8H1056.1M1130.5,240.1V285.1M1125.0,240.1H1136.0M1125.0,285.1H1136.0M1191.9,238.8V284.0M1186.4,238.8H1197.4M1186.4,284.0H1197.4M1241.6,243.3V283.3M1236.1,243.3H1247.1M1236.1,283.3H1247.1M1281.3,251.6V291.6M1275.8,251.6H1286.8M1275.8,291.6H1286.8M1314.5,256.7V292.7M1309.0,256.7H1320.0M1309.0,292.7H1320.0M1342.7,263.0V298.4M1337.2,263.0H1348.2M1337.2,298.4H1348.2M1369.9,270.7V297.5M1364.4,270.7H1375.4M1364.4,297.5H1375.4M1395.5,275.8V305.8M1390.0,275.8H1401.0M1390.0,305.8H1401.0M1414.8,280.9V308.7M1409.3,280.9H1420.3M1409.3,308.7H1420.3M1430.9,284.2V310.2M1425.4,284.2H1436.4M1425.4,310.2H1436.4M1444.0,288.1V312.7M1438.5,288.1H1449.5M1438.5,312.7H1449.5M1451.0,289.5V313.4M1445.5,289.5H1456.5M1445.5,313.4H1456.5M1457.8,290.6V314.3M1452.3,290.6H1463.3M1452.3,314.3H1463.3M1464.5,291.8V315.2M1459.0,291.8H1470.0M1459.0,315.2H1470.0M1471.1,292.9V316.1M1465.6,292.9H1476.6M1465.6,316.1H1476.6M1477.5,293.9V317.0M1472.0,293.9H1483.0M1472.0,317.0H1483.0M1483.8,295.0V317.8M1478.3,295.0H1489.3M1478.3,317.8H1489.3M1489.9,296.0V318.6M1484.4,296.0H1495.4M1484.4,318.6H1495.4M1495.9,297.0V319.4M1490.4,297.0H1501.4M1490.4,319.4H1501.4M1501.8,298.0V320.2M1496.3,298.0H1507.3M1496.3,320.2H1507.3M1507.5,299.0V320.9M1502.0,299.0H1513.0M1502.0,320.9H1513.0M1513.1,300.1V321.8M1507.6,300.1H1518.6M1507.6,321.8H1518.6M1518.6,301.4V323.0M1513.1,301.4H1524.1M1513.1,323.0H1524.1M1524.0,302.7V324.1M1518.5,302.7H1529.5M1518.5,324.1H1529.5M1529.2,304.0V325.1M1523.7,304.0H1534.7M1523.7,325.1H1534.7M1534.3,305.2V326.2M1528.8,305.2H1539.8M1528.8,326.2H1539.8M1539.4,306.4V327.2M1533.9,306.4H1544.9M1533.9,327.2H1544.9M1544.3,307.6V328.2M1538.8,307.6H1549.8M1538.8,328.2H1549.8M1549.1,308.7V329.2M1543.6,308.7H1554.6M1543.6,329.2H1554.6M1553.8,309.9V330.1M1548.3,309.9H1559.3M1548.3,330.1H1559.3M1558.4,311.0V331.1M1552.9,311.0H1563.9M1552.9,331.1H1563.9M1562.9,312.0V332.0M1557.4,312.0H1568.4M1557.4,332.0H1568.4M1567.3,313.1V332.9M1561.8,313.1H1572.8M1561.8,332.9H1572.8M1571.6,314.1V333.7M1566.1,314.1H1577.1M1566.1,333.7H1577.1M1575.8,315.1V334.6M1570.3,315.1H1581.3M1570.3,334.6H1581.3M1579.9,316.1V335.4M1574.4,316.1H1585.4M1574.4,335.4H1585.4M1583.9,317.0V336.2M1578.4,317.0H1589.4M1578.4,336.2H1589.4M1587.9,317.9V337.0M1582.4,317.9H1593.4M1582.4,337.0H1593.4M1591.7,318.9V337.8M1586.2,318.9H1597.2M1586.2,337.8H1597.2M1595.5,319.7V338.5M1590.0,319.7H1601.0M1590.0,338.5H1601.0M1599.2,320.6V339.3M1593.7,320.6H1604.7M1593.7,339.3H1604.7M1602.8,321.5V340.0M1597.3,321.5H1608.3M1597.3,340.0H1608.3M1606.3,322.3V340.7M1600.8,322.3H1611.8M1600.8,340.7H1611.8M1609.8,323.1V341.4M1604.3,323.1H1615.3M1604.3,341.4H1615.3M1613.1,323.9V342.1M1607.6,323.9H1618.6M1607.6,342.1H1618.6M1616.4,324.7V342.7M1610.9,324.7H1621.9M1610.9,342.7H1621.9M1617.7,325.0V343.0M1612.2,325.0H1623.2M1612.2,343.0H1623.2" fill="none" stroke="#000" stroke-width="1.6"/>
<circle cx="1050.6" cy="271.8" r="5.2" fill="#000"/>
<circle cx="1130.5" cy="262.6" r="5.2" fill="#000"/>
<circle cx="1191.9" cy="261.4" r="5.2" fill="#000"/>
<circle cx="1241.6" cy="263.3" r="5.2" fill="#000"/>
<circle cx="1281.3" cy="271.6" r="5.2" fill="#000"/>
<circle cx="1314.5" cy="274.7" r="5.2" fill="#000"/>
<circle cx="1342.7" cy="280.7" r="5.2" fill="#000"/>
<circle cx="1369.9" cy="284.1" r="5.2" fill="#000"/>
<circle cx="1395.5" cy="290.8" r="5.2" fill="#000"/>
<circle cx="1414.8" cy="294.8" r="5.2" fill="#000"/>
<circle cx="1430.9" cy="297.2" r="5.2" fill="#000"/>
<circle cx="1444.0" cy="300.4" r="5.2" fill="#000"/>
<circle cx="1451.0" cy="301.5" r="5.2" fill="#000"/>
<circle cx="1457.8" cy="302.5" r="5.2" fill="#000"/>
<circle cx="1464.5" cy="303.5" r="5.2" fill="#000"/>
<circle cx="1471.1" cy="304.5" r="5.2" fill="#000"/>
<circle cx="1477.5" cy="305.5" r="5.2" fill="#000"/>
<circle cx="1483.8" cy="306.4" r="5.2" fill="#000"/>
<circle cx="1489.9" cy="307.3" r="5.2" fill="#000"/>
<circle cx="1495.9" cy="308.2" r="5.2" fill="#000"/>
<circle cx="1501.8" cy="309.1" r="5.2" fill="#000"/>
<circle cx="1507.5" cy="310.0" r="5.2" fill="#000"/>
<circle cx="1513.1" cy="311.0" r="5.2" fill="#000"/>
<circle cx="1518.6" cy="312.2" r="5.2" fill="#000"/>
<circle cx="1524.0" cy="313.4" r="5.2" fill="#000"/>
<circle cx="1529.2" cy="314.5" r="5.2" fill="#000"/>
<circle cx="1534.3" cy="315.7" r="5.2" fill="#000"/>
<circle cx="1539.4" cy="316.8" r="5.2" fill="#000"/>
<circle cx="1544.3" cy="317.9" r="5.2" fill="#000"/>
<circle cx="1549.1" cy="319.0" r="5.2" fill="#000"/>
<circle cx="1553.8" cy="320.0" r="5.2" fill="#000"/>
<circle cx="1558.4" cy="321.0" r="5.2" fill="#000"/>
<circle cx="1562.9" cy="322.0" r="5.2" fill="#000"/>
<circle cx="1567.3" cy="323.0" r="5.2" fill="#000"/>
<circle cx="1571.6" cy="323.9" r="5.2" fill="#000"/>
<circle cx="1575.8" cy="324.8" r="5.2" fill="#000"/>
<circle cx="1579.9" cy="325.7" r="5.2" fill="#000"/>
<circle cx="1583.9" cy="326.6" r="5.2" fill="#000"/>
<circle cx="1587.9" cy="327.5" r="5.2" fill="#000"/>
<circle cx="1591.7" cy="328.3" r="5.2" fill="#000"/>
<circle cx="1595.5" cy="329.1" r="5.2" fill="#000"/>
<circle cx="1599.2" cy="330.0" r="5.2" fill="#000"/>
<circle cx="1602.8" cy="330.7" r="5.2" fill="#000"/>
<circle cx="1606.3" cy="331.5" r="5.2" fill="#000"/>
<circle cx="1609.8" cy="332.3" r="5.2" fill="#000"/>
<circle cx="1613.1" cy="333.0" r="5.2" fill="#000"/>
<circle cx="1616.4" cy="333.7" r="5.2" fill="#000"/>
<circle cx="1617.7" cy="334.0" r="5.2" fill="#000"/>
<path d="M1009.5,140.5 C1012.1,140.2 1009.1,139.7 1025.1,138.7 C1041.1,137.7 1079.5,135.7 1105.4,134.5 C1131.3,133.3 1157.6,132.3 1180.3,131.8 C1203.0,131.3 1223.6,130.7 1241.7,131.4 C1259.8,132.1 1274.9,134.1 1288.7,135.8 C1302.5,137.5 1314.4,139.8 1324.6,141.5 C1334.8,143.2 1342.5,144.7 1350.0,146.3 C1357.5,147.9 1364.0,149.7 1369.9,151.0 C1375.8,152.3 1381.1,153.6 1385.4,154.4 C1389.7,155.2 1392.1,155.4 1395.5,156.1 C1398.9,156.8 1402.6,157.9 1405.8,158.7 C1409.0,159.5 1411.9,160.1 1414.8,160.8 C1417.7,161.5 1421.0,162.4 1423.4,163.0 C1425.8,163.6 1427.4,163.9 1429.4,164.4 C1431.4,164.8 1433.4,165.3 1435.3,165.7 C1437.3,166.1 1439.2,166.6 1441.1,167.0 C1443.1,167.5 1445.0,167.9 1446.9,168.3 C1448.8,168.8 1450.7,169.2 1452.5,169.6 C1454.4,170.0 1456.3,170.5 1458.1,170.9 C1460.0,171.3 1461.8,171.7 1463.6,172.1 C1465.4,172.5 1467.3,173.0 1469.0,173.4 C1470.8,173.8 1472.6,174.2 1474.4,174.6 C1476.2,175.0 1477.9,175.4 1479.7,175.8 C1481.4,176.2 1483.1,176.6 1484.8,176.9 C1486.6,177.3 1488.3,177.7 1490.0,178.1 C1491.7,178.5 1493.3,178.9 1495.0,179.2 C1496.7,179.6 1498.3,180.0 1500.0,180.4 C1501.6,180.7 1503.2,181.1 1504.9,181.5 C1506.5,181.9 1508.1,182.2 1509.7,182.6 C1511.3,182.9 1512.9,183.3 1514.4,183.7 C1516.0,184.0 1517.6,184.4 1519.1,184.7 C1520.7,185.1 1522.2,185.4 1523.8,185.8 C1525.3,186.2 1526.8,186.7 1528.3,187.1 C1529.8,187.6 1531.3,188.0 1532.8,188.4 C1534.3,188.9 1535.8,189.3 1537.2,189.7 C1538.7,190.1 1540.1,190.6 1541.6,191.0 C1543.0,191.4 1544.5,191.8 1545.9,192.2 C1547.3,192.6 1548.7,193.0 1550.1,193.4 C1551.5,193.9 1552.9,194.3 1554.3,194.7 C1555.7,195.1 1557.0,195.4 1558.4,195.8 C1559.8,196.2 1561.1,196.6 1562.5,197.0 C1563.8,197.4 1565.1,197.8 1566.5,198.2 C1567.8,198.6 1569.1,198.9 1570.4,199.3 C1571.7,199.7 1573.0,200.1 1574.3,200.4 C1575.6,200.8 1576.8,201.2 1578.1,201.5 C1579.4,201.9 1580.6,202.3 1581.9,202.6 C1583.1,203.0 1584.4,203.4 1585.6,203.7 C1586.8,204.1 1588.0,204.4 1589.2,204.8 C1590.5,205.1 1591.7,205.5 1592.9,205.8 C1594.1,206.2 1595.2,206.5 1596.4,206.8 C1597.6,207.2 1598.8,207.5 1599.9,207.9 C1601.1,208.2 1602.2,208.5 1603.4,208.9 C1604.5,209.2 1605.7,209.5 1606.8,209.8 C1607.9,210.2 1609.0,210.5 1610.1,210.8 C1611.3,211.1 1612.4,211.5 1613.5,211.8 C1614.5,212.1 1616.0,212.5 1616.7,212.7 C1617.4,212.9 1617.5,213.0 1617.7,213.0" fill="none" stroke="#f00" stroke-width="1.7"/>
<path d="M1025.1,127.7V149.7M1019.6,127.7H1030.6M1019.6,149.7H1030.6M1105.4,123.4V145.6M1099.9,123.4H1110.9M1099.9,145.6H1110.9M1180.3,120.7V142.9M1174.8,120.7H1185.8M1174.8,142.9H1185.8M1241.7,120.2V142.6M1236.2,120.2H1247.2M1236.2,142.6H1247.2M1288.7,124.6V147.0M1283.2,124.6H1294.2M1283.2,147.0H1294.2M1324.6,130.2V152.8M1319.1,130.2H1330.1M1319.1,152.8H1330.1M1350.0,135.0V157.6M1344.5,135.0H1355.5M1344.5,157.6H1355.5M1369.9,139.7V162.3M1364.4,139.7H1375.4M1364.4,162.3H1375.4M1385.4,143.1V165.7M1379.9,143.1H1390.9M1379.9,165.7H1390.9M1395.5,144.8V167.4M1390.0,144.8H1401.0M1390.0,167.4H1401.0M1405.8,147.4V170.0M1400.3,147.4H1411.3M1400.3,170.0H1411.3M1414.8,149.5V172.1M1409.3,149.5H1420.3M1409.3,172.1H1420.3M1423.4,151.7V174.3M1417.9,151.7H1428.9M1417.9,174.3H1428.9M1429.4,153.0V175.7M1423.9,153.0H1434.9M1423.9,175.7H1434.9M1435.3,154.4V177.1M1429.8,154.4H1440.8M1429.8,177.1H1440.8M1441.1,155.7V178.4M1435.6,155.7H1446.6M1435.6,178.4H1446.6M1446.9,157.0V179.7M1441.4,157.0H1452.4M1441.4,179.7H1452.4M1452.5,158.2V181.0M1447.0,158.2H1458.0M1447.0,181.0H1458.0M1458.1,159.5V182.2M1452.6,159.5H1463.6M1452.6,182.2H1463.6M1463.6,160.8V183.5M1458.1,160.8H1469.1M1458.1,183.5H1469.1M1469.0,162.0V184.7M1463.5,162.0H1474.5M1463.5,184.7H1474.5M1474.4,163.2V186.0M1468.9,163.2H1479.9M1468.9,186.0H1479.9M1479.7,164.4V187.2M1474.2,164.4H1485.2M1474.2,187.2H1485.2M1484.8,165.6V188.3M1479.3,165.6H1490.3M1479.3,188.3H1490.3M1490.0,166.7V189.5M1484.5,166.7H1495.5M1484.5,189.5H1495.5M1495.0,167.8V190.6M1489.5,167.8H1500.5M1489.5,190.6H1500.5M1500.0,169.0V191.8M1494.5,169.0H1505.5M1494.5,191.8H1505.5M1504.9,170.1V192.9M1499.4,170.1H1510.4M1499.4,192.9H1510.4M1509.7,171.2V194.0M1504.2,171.2H1515.2M1504.2,194.0H1515.2M1514.4,172.2V195.1M1508.9,172.2H1519.9M1508.9,195.1H1519.9M1519.1,173.3V196.1M1513.6,173.3H1524.6M1513.6,196.1H1524.6M1523.8,174.4V197.2M1518.3,174.4H1529.3M1518.3,197.2H1529.3M1528.3,175.7V198.6M1522.8,175.7H1533.8M1522.8,198.6H1533.8M1532.8,177.0V199.9M1527.3,177.0H1538.3M1527.3,199.9H1538.3M1537.2,178.3V201.1M1531.7,178.3H1542.7M1531.7,201.1H1542.7M1541.6,179.5V202.4M1536.1,179.5H1547.1M1536.1,202.4H1547.1M1545.9,180.8V203.7M1540.4,180.8H1551.4M1540.4,203.7H1551.4M1550.1,182.0V204.9M1544.6,182.0H1555.6M1544.6,204.9H1555.6M1554.3,183.2V206.1M1548.8,183.2H1559.8M1548.8,206.1H1559.8M1558.4,184.4V207.3M1552.9,184.4H1563.9M1552.9,207.3H1563.9M1562.5,185.6V208.5M1557.0,185.6H1568.0M1557.0,208.5H1568.0M1566.5,186.7V209.6M1561.0,186.7H1572.0M1561.0,209.6H1572.0M1570.4,187.9V210.8M1564.9,187.9H1575.9M1564.9,210.8H1575.9M1574.3,189.0V211.9M1568.8,189.0H1579.8M1568.8,211.9H1579.8M1578.1,190.1V213.0M1572.6,190.1H1583.6M1572.6,213.0H1583.6M1581.9,191.2V214.1M1576.4,191.2H1587.4M1576.4,214.1H1587.4M1585.6,192.2V215.2M1580.1,192.2H1591.1M1580.1,215.2H1591.1M1589.2,193.3V216.2M1583.7,193.3H1594.7M1583.7,216.2H1594.7M1592.9,194.3V217.3M1587.4,194.3H1598.4M1587.4,217.3H1598.4M1596.4,195.4V218.3M1590.9,195.4H1601.9M1590.9,218.3H1601.9M1599.9,196.4V219.3M1594.4,196.4H1605.4M1594.4,219.3H1605.4M1603.4,197.4V220.3M1597.9,197.4H1608.9M1597.9,220.3H1608.9M1606.8,198.4V221.3M1601.3,198.4H1612.3M1601.3,221.3H1612.3M1610.1,199.3V222.3M1604.6,199.3H1615.6M1604.6,222.3H1615.6M1613.5,200.3V223.3M1608.0,200.3H1619.0M1608.0,223.3H1619.0M1616.7,201.2V224.2M1611.2,201.2H1622.2M1611.2,224.2H1622.2M1617.7,201.5V224.5M1612.2,201.5H1623.2M1612.2,224.5H1623.2" fill="none" stroke="#f00" stroke-width="1.6"/>
<circle cx="1025.1" cy="138.7" r="5.2" fill="#f00"/>
<circle cx="1105.4" cy="134.5" r="5.2" fill="#f00"/>
<circle cx="1180.3" cy="131.8" r="5.2" fill="#f00"/>
<circle cx="1241.7" cy="131.4" r="5.2" fill="#f00"/>
<circle cx="1288.7" cy="135.8" r="5.2" fill="#f00"/>
<circle cx="1324.6" cy="141.5" r="5.2" fill="#f00"/>
<circle cx="1350.0" cy="146.3" r="5.2" fill="#f00"/>
<circle cx="1369.9" cy="151.0" r="5.2" fill="#f00"/>
<circle cx="1385.4" cy="154.4" r="5.2" fill="#f00"/>
<circle cx="1395.5" cy="156.1" r="5.2" fill="#f00"/>
<circle cx="1405.8" cy="158.7" r="5.2" fill="#f00"/>
<circle cx="1414.8" cy="160.8" r="5.2" fill="#f00"/>
<circle cx="1423.4" cy="163.0" r="5.2" fill="#f00"/>
<circle cx="1429.4" cy="164.4" r="5.2" fill="#f00"/>
<circle cx="1435.3" cy="165.7" r="5.2" fill="#f00"/>
<circle cx="1441.1" cy="167.0" r="5.2" fill="#f00"/>
<circle cx="1446.9" cy="168.3" r="5.2" fill="#f00"/>
<circle cx="1452.5" cy="169.6" r="5.2" fill="#f00"/>
<circle cx="1458.1" cy="170.9" r="5.2" fill="#f00"/>
<circle cx="1463.6" cy="172.1" r="5.2" fill="#f00"/>
<circle cx="1469.0" cy="173.4" r="5.2" fill="#f00"/>
<circle cx="1474.4" cy="174.6" r="5.2" fill="#f00"/>
<circle cx="1479.7" cy="175.8" r="5.2" fill="#f00"/>
<circle cx="1484.8" cy="176.9" r="5.2" fill="#f00"/>
<circle cx="1490.0" cy="178.1" r="5.2" fill="#f00"/>
<circle cx="1495.0" cy="179.2" r="5.2" fill="#f00"/>
<circle cx="1500.0" cy="180.4" r="5.2" fill="#f00"/>
<circle cx="1504.9" cy="181.5" r="5.2" fill="#f00"/>
<circle cx="1509.7" cy="182.6" r="5.2" fill="#f00"/>
<circle cx="1514.4" cy="183.7" r="5.2" fill="#f00"/>
<circle cx="1519.1" cy="184.7" r="5.2" fill="#f00"/>
<circle cx="1523.8" cy="185.8" r="5.2" fill="#f00"/>
<circle cx="1528.3" cy="187.1" r="5.2" fill="#f00"/>
<circle cx="1532.8" cy="188.4" r="5.2" fill="#f00"/>
<circle cx="1537.2" cy="189.7" r="5.2" fill="#f00"/>
<circle cx="1541.6" cy="191.0" r="5.2" fill="#f00"/>
<circle cx="1545.9" cy="192.2" r="5.2" fill="#f00"/>
<circle cx="1550.1" cy="193.4" r="5.2" fill="#f00"/>
<circle cx="1554.3" cy="194.7" r="5.2" fill="#f00"/>
<circle cx="1558.4" cy="195.8" r="5.2" fill="#f00"/>
<circle cx="1562.5" cy="197.0" r="5.2" fill="#f00"/>
<circle cx="1566.5" cy="198.2" r="5.2" fill="#f00"/>
<circle cx="1570.4" cy="199.3" r="5.2" fill="#f00"/>
<circle cx="1574.3" cy="200.4" r="5.2" fill="#f00"/>
<circle cx="1578.1" cy="201.5" r="5.2" fill="#f00"/>
<circle cx="1581.9" cy="202.6" r="5.2" fill="#f00"/>
<circle cx="1585.6" cy="203.7" r="5.2" fill="#f00"/>
<circle cx="1589.2" cy="204.8" r="5.2" fill="#f00"/>
<circle cx="1592.9" cy="205.8" r="5.2" fill="#f00"/>
<circle cx="1596.4" cy="206.8" r="5.2" fill="#f00"/>
<circle cx="1599.9" cy="207.9" r="5.2" fill="#f00"/>
<circle cx="1603.4" cy="208.9" r="5.2" fill="#f00"/>
<circle cx="1606.8" cy="209.8" r="5.2" fill="#f00"/>
<circle cx="1610.1" cy="210.8" r="5.2" fill="#f00"/>
<circle cx="1613.5" cy="211.8" r="5.2" fill="#f00"/>
<circle cx="1616.7" cy="212.7" r="5.2" fill="#f00"/>
<circle cx="1617.7" cy="213.0" r="5.2" fill="#f00"/>
<path d="M1009.5,108.0 C1025.5,112.3 1076.9,126.0 1105.4,134.0 C1133.9,142.0 1159.9,149.6 1180.3,156.0 C1200.7,162.4 1214.1,167.1 1228.0,172.4 C1241.9,177.8 1253.6,183.5 1263.8,188.1 C1274.0,192.7 1281.4,196.5 1288.9,200.1 C1296.5,203.7 1303.1,206.8 1309.1,209.8 C1315.0,212.8 1319.7,215.3 1324.6,217.9 C1329.5,220.5 1333.8,222.8 1338.3,225.3 C1342.8,227.8 1347.2,230.6 1351.4,232.8 C1355.6,235.1 1359.5,236.8 1363.3,238.8 C1367.0,240.8 1370.6,243.1 1373.9,244.9 C1377.2,246.7 1380.1,248.0 1383.0,249.5 C1385.9,251.0 1388.8,252.6 1391.5,254.1 C1394.2,255.6 1396.6,257.1 1399.1,258.5 C1401.5,259.9 1403.7,261.2 1406.2,262.6 C1408.7,264.0 1412.0,265.4 1414.2,266.6 C1416.4,267.8 1417.5,268.8 1419.2,269.7 C1420.9,270.7 1422.5,271.5 1424.1,272.3 C1425.8,273.2 1427.4,274.0 1429.0,274.8 C1430.7,275.6 1432.3,276.4 1433.9,277.3 C1435.5,278.1 1437.1,278.9 1438.7,279.7 C1440.3,280.5 1441.8,281.3 1443.4,282.1 C1445.0,282.9 1446.5,283.7 1448.1,284.5 C1449.6,285.3 1451.2,286.1 1452.7,286.8 C1454.3,287.6 1455.8,288.4 1457.3,289.2 C1458.8,290.0 1460.3,290.7 1461.8,291.5 C1463.3,292.3 1464.8,293.0 1466.3,293.8 C1467.8,294.5 1469.3,295.3 1470.8,296.0 C1472.2,296.8 1473.7,297.5 1475.1,298.3 C1476.6,299.0 1478.0,299.7 1479.5,300.5 C1480.9,301.2 1482.4,301.9 1483.8,302.7 C1485.2,303.4 1486.6,304.1 1488.0,304.8 C1489.4,305.5 1490.8,306.2 1492.2,307.0 C1493.6,307.7 1495.0,308.4 1496.4,309.1 C1497.8,309.8 1499.1,310.5 1500.5,311.2 C1501.9,311.9 1503.2,312.5 1504.6,313.2 C1505.9,313.9 1507.3,314.6 1508.6,315.3 C1509.9,315.9 1511.2,316.6 1512.6,317.2 C1513.9,317.8 1515.2,318.4 1516.5,318.9 C1517.8,319.5 1519.1,320.1 1520.4,320.7 C1521.7,321.2 1523.0,321.8 1524.3,322.4 C1525.5,323.0 1526.8,323.5 1528.1,324.1 C1529.3,324.6 1530.6,325.2 1531.8,325.7 C1533.1,326.3 1534.3,326.9 1535.6,327.4 C1536.8,328.0 1538.0,328.5 1539.2,329.0 C1540.5,329.6 1541.7,330.1 1542.9,330.7 C1544.1,331.2 1545.3,331.7 1546.5,332.3 C1547.7,332.8 1548.9,333.3 1550.1,333.8 C1551.3,334.4 1552.4,334.9 1553.6,335.4 C1554.8,335.9 1555.9,336.5 1557.1,337.0 C1558.3,337.5 1559.4,338.0 1560.6,338.5 C1561.7,339.0 1562.8,339.5 1564.0,340.0 C1565.1,340.5 1566.2,340.9 1567.4,341.4 C1568.5,341.9 1569.6,342.4 1570.7,342.8 C1571.8,343.3 1572.9,343.8 1574.0,344.3 C1575.1,344.7 1576.2,345.2 1577.3,345.6 C1578.4,346.1 1579.4,346.6 1580.5,347.0 C1581.6,347.5 1582.7,347.9 1583.7,348.4 C1584.8,348.8 1585.8,349.3 1586.9,349.7 C1587.9,350.2 1589.0,350.6 1590.0,351.1 C1591.1,351.5 1592.1,352.0 1593.1,352.4 C1594.1,352.8 1595.2,353.3 1596.2,353.7 C1597.2,354.1 1598.2,354.6 1599.2,355.0 C1600.2,355.4 1601.2,355.9 1602.2,356.3 C1603.2,356.7 1604.2,357.1 1605.2,357.6 C1606.2,358.0 1607.1,358.4 1608.1,358.8 C1609.1,359.2 1610.1,359.6 1611.0,360.0 C1612.0,360.5 1612.9,360.9 1613.9,361.3 C1614.8,361.7 1616.1,362.2 1616.7,362.5 C1617.4,362.8 1617.5,362.8 1617.7,362.9" fill="none" stroke="#f00" stroke-width="1.7"/>
<path d="M1009.6,95.5V120.5M1004.1,95.5H1015.1M1004.1,120.5H1015.1M1105.4,121.2V146.8M1099.9,121.2H1110.9M1099.9,146.8H1110.9M1180.3,143.0V169.0M1174.8,143.0H1185.8M1174.8,169.0H1185.8M1228.0,159.0V185.8M1222.5,159.0H1233.5M1222.5,185.8H1233.5M1263.8,174.3V201.9M1258.3,174.3H1269.3M1258.3,201.9H1269.3M1288.9,186.1V214.1M1283.4,186.1H1294.4M1283.4,214.1H1294.4M1309.1,196.1V223.5M1303.6,196.1H1314.6M1303.6,223.5H1314.6M1324.6,204.4V231.4M1319.1,204.4H1330.1M1319.1,231.4H1330.1M1338.3,212.0V238.6M1332.8,212.0H1343.8M1332.8,238.6H1343.8M1351.4,219.6V246.0M1345.9,219.6H1356.9M1345.9,246.0H1356.9M1363.3,225.8V251.8M1357.8,225.8H1368.8M1357.8,251.8H1368.8M1373.9,232.0V257.8M1368.4,232.0H1379.4M1368.4,257.8H1379.4M1383.0,236.8V262.2M1377.5,236.8H1388.5M1377.5,262.2H1388.5M1391.5,241.5V266.7M1386.0,241.5H1397.0M1386.0,266.7H1397.0M1399.1,246.0V271.0M1393.6,246.0H1404.6M1393.6,271.0H1404.6M1406.2,250.2V275.0M1400.7,250.2H1411.7M1400.7,275.0H1411.7M1414.2,254.3V278.9M1408.7,254.3H1419.7M1408.7,278.9H1419.7M1419.2,257.5V281.9M1413.7,257.5H1424.7M1413.7,281.9H1424.7M1424.1,260.1V284.5M1418.6,260.1H1429.6M1418.6,284.5H1429.6M1429.0,262.7V286.9M1423.5,262.7H1434.5M1423.5,286.9H1434.5M1433.9,265.2V289.3M1428.4,265.2H1439.4M1428.4,289.3H1439.4M1438.7,267.7V291.7M1433.2,267.7H1444.2M1433.2,291.7H1444.2M1443.4,270.2V294.0M1437.9,270.2H1448.9M1437.9,294.0H1448.9M1448.1,272.7V296.3M1442.6,272.7H1453.6M1442.6,296.3H1453.6M1452.7,275.1V298.6M1447.2,275.1H1458.2M1447.2,298.6H1458.2M1457.3,277.5V300.9M1451.8,277.5H1462.8M1451.8,300.9H1462.8M1461.8,279.8V303.1M1456.3,279.8H1467.3M1456.3,303.1H1467.3M1466.3,282.2V305.4M1460.8,282.2H1471.8M1460.8,305.4H1471.8M1470.8,284.5V307.6M1465.3,284.5H1476.3M1465.3,307.6H1476.3M1475.1,286.8V309.7M1469.6,286.8H1480.6M1469.6,309.7H1480.6M1479.5,289.1V311.9M1474.0,289.1H1485.0M1474.0,311.9H1485.0M1483.8,291.3V314.0M1478.3,291.3H1489.3M1478.3,314.0H1489.3M1488.0,293.5V316.1M1482.5,293.5H1493.5M1482.5,316.1H1493.5M1492.2,295.7V318.2M1486.7,295.7H1497.7M1486.7,318.2H1497.7M1496.4,297.9V320.2M1490.9,297.9H1501.9M1490.9,320.2H1501.9M1500.5,300.0V322.3M1495.0,300.0H1506.0M1495.0,322.3H1506.0M1504.6,302.2V324.3M1499.1,302.2H1510.1M1499.1,324.3H1510.1M1508.6,304.3V326.3M1503.1,304.3H1514.1M1503.1,326.3H1514.1M1512.6,306.2V328.1M1507.1,306.2H1518.1M1507.1,328.1H1518.1M1516.5,308.0V329.8M1511.0,308.0H1522.0M1511.0,329.8H1522.0M1520.4,309.8V331.5M1514.9,309.8H1525.9M1514.9,331.5H1525.9M1524.3,311.6V333.2M1518.8,311.6H1529.8M1518.8,333.2H1529.8M1528.1,313.3V334.8M1522.6,313.3H1533.6M1522.6,334.8H1533.6M1531.8,315.1V336.4M1526.3,315.1H1537.3M1526.3,336.4H1537.3M1535.6,316.8V338.0M1530.1,316.8H1541.1M1530.1,338.0H1541.1M1539.2,318.5V339.6M1533.7,318.5H1544.7M1533.7,339.6H1544.7M1542.9,320.1V341.2M1537.4,320.1H1548.4M1537.4,341.2H1548.4M1546.5,321.8V342.7M1541.0,321.8H1552.0M1541.0,342.7H1552.0M1550.1,323.4V344.3M1544.6,323.4H1555.6M1544.6,344.3H1555.6M1553.6,325.0V345.8M1548.1,325.0H1559.1M1548.1,345.8H1559.1M1557.1,326.6V347.3M1551.6,326.6H1562.6M1551.6,347.3H1562.6M1560.6,328.2V348.8M1555.1,328.2H1566.1M1555.1,348.8H1566.1M1564.0,329.7V350.2M1558.5,329.7H1569.5M1558.5,350.2H1569.5M1567.4,331.2V351.6M1561.9,331.2H1572.9M1561.9,351.6H1572.9M1570.7,332.7V353.0M1565.2,332.7H1576.2M1565.2,353.0H1576.2M1574.0,334.1V354.4M1568.5,334.1H1579.5M1568.5,354.4H1579.5M1577.3,335.6V355.7M1571.8,335.6H1582.8M1571.8,355.7H1582.8M1580.5,337.0V357.0M1575.0,337.0H1586.0M1575.0,357.0H1586.0M1583.7,338.4V358.4M1578.2,338.4H1589.2M1578.2,358.4H1589.2M1586.9,339.8V359.7M1581.4,339.8H1592.4M1581.4,359.7H1592.4M1590.0,341.2V361.0M1584.5,341.2H1595.5M1584.5,361.0H1595.5M1593.1,342.6V362.2M1587.6,342.6H1598.6M1587.6,362.2H1598.6M1596.2,343.9V363.5M1590.7,343.9H1601.7M1590.7,363.5H1601.7M1599.2,345.3V364.8M1593.7,345.3H1604.7M1593.7,364.8H1604.7M1602.2,346.6V366.0M1596.7,346.6H1607.7M1596.7,366.0H1607.7M1605.2,347.9V367.2M1599.7,347.9H1610.7M1599.7,367.2H1610.7M1608.1,349.2V368.4M1602.6,349.2H1613.6M1602.6,368.4H1613.6M1611.0,350.5V369.6M1605.5,350.5H1616.5M1605.5,369.6H1616.5M1613.9,351.7V370.8M1608.4,351.7H1619.4M1608.4,370.8H1619.4M1616.7,353.0V372.0M1611.2,353.0H1622.2M1611.2,372.0H1622.2M1617.7,353.4V372.4M1612.2,353.4H1623.2M1612.2,372.4H1623.2" fill="none" stroke="#f00" stroke-width="1.6"/>
<circle cx="1009.6" cy="108.0" r="4.6" fill="#fff" stroke="#f00" stroke-width="1.2"/>
<circle cx="1105.4" cy="134.0" r="4.6" fill="#fff" stroke="#f00" stroke-width="1.2"/>
<circle cx="1180.3" cy="156.0" r="4.6" fill="#fff" stroke="#f00" stroke-width="1.2"/>
<circle cx="1228.0" cy="172.4" r="4.6" fill="#fff" stroke="#f00" stroke-width="1.2"/>
<circle cx="1263.8" cy="188.1" r="4.6" fill="#fff" stroke="#f00" stroke-width="1.2"/>
<circle cx="1288.9" cy="200.1" r="4.6" fill="#fff" stroke="#f00" stroke-width="1.2"/>
<circle cx="1309.1" cy="209.8" r="4.6" fill="#fff" stroke="#f00" stroke-width="1.2"/>
<circle cx="1324.6" cy="217.9" r="4.6" fill="#fff" stroke="#f00" stroke-width="1.2"/>
<circle cx="1338.3" cy="225.3" r="4.6" fill="#fff" stroke="#f00" stroke-width="1.2"/>
<circle cx="1351.4" cy="232.8" r="4.6" fill="#fff" stroke="#f00" stroke-width="1.2"/>
<circle cx="1363.3" cy="238.8" r="4.6" fill="#fff" stroke="#f00" stroke-width="1.2"/>
<circle cx="1373.9" cy="244.9" r="4.6" fill="#fff" stroke="#f00" stroke-width="1.2"/>
<circle cx="1383.0" cy="249.5" r="4.6" fill="#fff" stroke="#f00" stroke-width="1.2"/>
<circle cx="1391.5" cy="254.1" r="4.6" fill="#fff" stroke="#f00" stroke-width="1.2"/>
<circle cx="1399.1" cy="258.5" r="4.6" fill="#fff" stroke="#f00" stroke-width="1.2"/>
<circle cx="1406.2" cy="262.6" r="4.6" fill="#fff" stroke="#f00" stroke-width="1.2"/>
<circle cx="1414.2" cy="266.6" r="4.6" fill="#fff" stroke="#f00" stroke-width="1.2"/>
<circle cx="1419.2" cy="269.7" r="4.6" fill="#fff" stroke="#f00" stroke-width="1.2"/>
<circle cx="1424.1" cy="272.3" r="4.6" fill="#fff" stroke="#f00" stroke-width="1.2"/>
<circle cx="1429.0" cy="274.8" r="4.6" fill="#fff" stroke="#f00" stroke-width="1.2"/>
<circle cx="1433.9" cy="277.3" r="4.6" fill="#fff" stroke="#f00" stroke-width="1.2"/>
<circle cx="1438.7" cy="279.7" r="4.6" fill="#fff" stroke="#f00" stroke-width="1.2"/>
<circle cx="1443.4" cy="282.1" r="4.6" fill="#fff" stroke="#f00" stroke-width="1.2"/>
<circle cx="1448.1" cy="284.5" r="4.6" fill="#fff" stroke="#f00" stroke-width="1.2"/>
<circle cx="1452.7" cy="286.8" r="4.6" fill="#fff" stroke="#f00" stroke-width="1.2"/>
<circle cx="1457.3" cy="289.2" r="4.6" fill="#fff" stroke="#f00" stroke-width="1.2"/>
<circle cx="1461.8" cy="291.5" r="4.6" fill="#fff" stroke="#f00" stroke-width="1.2"/>
<circle cx="1466.3" cy="293.8" r="4.6" fill="#fff" stroke="#f00" stroke-width="1.2"/>
<circle cx="1470.8" cy="296.0" r="4.6" fill="#fff" stroke="#f00" stroke-width="1.2"/>
<circle cx="1475.1" cy="298.3" r="4.6" fill="#fff" stroke="#f00" stroke-width="1.2"/>
<circle cx="1479.5" cy="300.5" r="4.6" fill="#fff" stroke="#f00" stroke-width="1.2"/>
<circle cx="1483.8" cy="302.7" r="4.6" fill="#fff" stroke="#f00" stroke-width="1.2"/>
<circle cx="1488.0" cy="304.8" r="4.6" fill="#fff" stroke="#f00" stroke-width="1.2"/>
<circle cx="1492.2" cy="307.0" r="4.6" fill="#fff" stroke="#f00" stroke-width="1.2"/>
<circle cx="1496.4" cy="309.1" r="4.6" fill="#fff" stroke="#f00" stroke-width="1.2"/>
<circle cx="1500.5" cy="311.2" r="4.6" fill="#fff" stroke="#f00" stroke-width="1.2"/>
<circle cx="1504.6" cy="313.2" r="4.6" fill="#fff" stroke="#f00" stroke-width="1.2"/>
<circle cx="1508.6" cy="315.3" r="4.6" fill="#fff" stroke="#f00" stroke-width="1.2"/>
<circle cx="1512.6" cy="317.2" r="4.6" fill="#fff" stroke="#f00" stroke-width="1.2"/>
<circle cx="1516.5" cy="318.9" r="4.6" fill="#fff" stroke="#f00" stroke-width="1.2"/>
<circle cx="1520.4" cy="320.7" r="4.6" fill="#fff" stroke="#f00" stroke-width="1.2"/>
<circle cx="1524.3" cy="322.4" r="4.6" fill="#fff" stroke="#f00" stroke-width="1.2"/>
<circle cx="1528.1" cy="324.1" r="4.6" fill="#fff" stroke="#f00" stroke-width="1.2"/>
<circle cx="1531.8" cy="325.7" r="4.6" fill="#fff" stroke="#f00" stroke-width="1.2"/>
<circle cx="1535.6" cy="327.4" r="4.6" fill="#fff" stroke="#f00" stroke-width="1.2"/>
<circle cx="1539.2" cy="329.0" r="4.6" fill="#fff" stroke="#f00" stroke-width="1.2"/>
<circle cx="1542.9" cy="330.7" r="4.6" fill="#fff" stroke="#f00" stroke-width="1.2"/>
<circle cx="1546.5" cy="332.3" r="4.6" fill="#fff" stroke="#f00" stroke-width="1.2"/>
<circle cx="1550.1" cy="333.8" r="4.6" fill="#fff" stroke="#f00" stroke-width="1.2"/>
<circle cx="1553.6" cy="335.4" r="4.6" fill="#fff" stroke="#f00" stroke-width="1.2"/>
<circle cx="1557.1" cy="337.0" r="4.6" fill="#fff" stroke="#f00" stroke-width="1.2"/>
<circle cx="1560.6" cy="338.5" r="4.6" fill="#fff" stroke="#f00" stroke-width="1.2"/>
<circle cx="1564.0" cy="340.0" r="4.6" fill="#fff" stroke="#f00" stroke-width="1.2"/>
<circle cx="1567.4" cy="341.4" r="4.6" fill="#fff" stroke="#f00" stroke-width="1.2"/>
<circle cx="1570.7" cy="342.8" r="4.6" fill="#fff" stroke="#f00" stroke-width="1.2"/>
<circle cx="1574.0" cy="344.3" r="4.6" fill="#fff" stroke="#f00" stroke-width="1.2"/>
<circle cx="1577.3" cy="345.6" r="4.6" fill="#fff" stroke="#f00" stroke-width="1.2"/>
<circle cx="1580.5" cy="347.0" r="4.6" fill="#fff" stroke="#f00" stroke-width="1.2"/>
<circle cx="1583.7" cy="348.4" r="4.6" fill="#fff" stroke="#f00" stroke-width="1.2"/>
<circle cx="1586.9" cy="349.7" r="4.6" fill="#fff" stroke="#f00" stroke-width="1.2"/>
<circle cx="1590.0" cy="351.1" r="4.6" fill="#fff" stroke="#f00" stroke-width="1.2"/>
<circle cx="1593.1" cy="352.4" r="4.6" fill="#fff" stroke="#f00" stroke-width="1.2"/>
<circle cx="1596.2" cy="353.7" r="4.6" fill="#fff" stroke="#f00" stroke-width="1.2"/>
<circle cx="1599.2" cy="355.0" r="4.6" fill="#fff" stroke="#f00" stroke-width="1.2"/>
<circle cx="1602.2" cy="356.3" r="4.6" fill="#fff" stroke="#f00" stroke-width="1.2"/>
<circle cx="1605.2" cy="357.6" r="4.6" fill="#fff" stroke="#f00" stroke-width="1.2"/>
<circle cx="1608.1" cy="358.8" r="4.6" fill="#fff" stroke="#f00" stroke-width="1.2"/>
<circle cx="1611.0" cy="360.0" r="4.6" fill="#fff" stroke="#f00" stroke-width="1.2"/>
<circle cx="1613.9" cy="361.3" r="4.6" fill="#fff" stroke="#f00" stroke-width="1.2"/>
<circle cx="1616.7" cy="362.5" r="4.6" fill="#fff" stroke="#f00" stroke-width="1.2"/>
<circle cx="1617.7" cy="362.9" r="4.6" fill="#fff" stroke="#f00" stroke-width="1.2"/>
</g>
<path d="M1243.6,135V97.6H1189M1203,89L1189,97.6L1203,106.5M1243.6,266.5V220.4H1189M1203,211.8L1189,220.4L1203,229.3M1410.2,260.6V223.3H1459M1445,214.5L1459,223.3L1445,232.3M1410.2,379V348H1459M1445,339.2L1459,348L1445,357" fill="none" stroke="#000" stroke-width="2.1"/>
<path d="M1617.7,62.8V535.7" fill="none" stroke="#222" stroke-width="1.6"/>
<path d="M1617.7,487.8H1612.7M1617.7,440.6H1608.7M1617.7,393.5H1612.7M1617.7,346.3H1608.7M1617.7,299.2H1612.7M1617.7,252.1H1608.7M1617.7,204.9H1612.7M1617.7,157.8H1608.7M1617.7,110.6H1612.7" fill="none" stroke="#222" stroke-width="1.6"/>
<defs>
<radialGradient id="glowR" cx="0.5" cy="0.5" r="0.5"><stop offset="0" stop-color="#2cb82c"/><stop offset="0.45" stop-color="#1a8a1a"/><stop offset="0.8" stop-color="#0c3e0c" stop-opacity="0.7"/><stop offset="1" stop-color="#062006" stop-opacity="0"/></radialGradient>
<radialGradient id="glowL" cx="0.5" cy="0.5" r="0.5"><stop offset="0" stop-color="#0a2e0c" stop-opacity="0.9"/><stop offset="1" stop-color="#021002" stop-opacity="0"/></radialGradient>
<linearGradient id="vband" x1="0" y1="0" x2="0" y2="1"><stop offset="0" stop-color="#072a07"/><stop offset="0.3" stop-color="#157a15"/><stop offset="0.5" stop-color="#22b022"/><stop offset="0.75" stop-color="#1c941c"/><stop offset="1" stop-color="#0e500e"/></linearGradient>
<linearGradient id="vigR" x1="0" y1="0" x2="1" y2="0"><stop offset="0" stop-color="#000" stop-opacity="0"/><stop offset="1" stop-color="#000" stop-opacity="0.85"/></linearGradient>
<filter id="blur1" x="-20%" y="-20%" width="140%" height="140%"><feGaussianBlur stdDeviation="1.0"/></filter>
<filter id="blur3" x="-50%" y="-50%" width="200%" height="200%"><feGaussianBlur stdDeviation="3"/></filter>
<filter id="blur5" x="-50%" y="-50%" width="200%" height="200%"><feGaussianBlur stdDeviation="5"/></filter>
<filter id="blur8" x="-50%" y="-50%" width="200%" height="200%"><feGaussianBlur stdDeviation="8"/></filter>
<clipPath id="insR"><rect x="1157.3" y="383.8" width="157.5" height="151.2"/></clipPath>
<clipPath id="insL"><rect x="1007.5" y="383.8" width="149.8" height="151.2"/></clipPath>
</defs>
<rect x="1007.5" y="383.8" width="151" height="151.2" fill="#020d03"/>
<g clip-path="url(#insL)"><ellipse cx="1020" cy="455" rx="25" ry="30" fill="#0c3212" opacity="0.6" filter="url(#blur8)"/>
<ellipse cx="1089" cy="456" rx="48" ry="46" fill="url(#glowL)"/>
<polygon points="1060.4,426.6 1115.6,426.6 1117.4,485.3 1061.8,485.3" fill="#3a9a3a" filter="url(#blur3)" opacity="0.7"/></g>
<polygon points="1060.4,426.6 1115.6,426.6 1117.4,485.3 1061.8,485.3" fill="#f4fff4" filter="url(#blur1)"/>
<polygon points="1062,428.4 1114.4,428.4 1116,483.6 1063.4,483.6" fill="#fff"/>
<rect x="1157.3" y="383.8" width="157.5" height="151.2" fill="#041604"/>
<g clip-path="url(#insR)">
<rect x="1157.3" y="383.8" width="100" height="45" fill="#0c300e" opacity="0.9" filter="url(#blur8)"/>
<rect x="1160" y="399" width="50" height="9" fill="#6a5418" opacity="0.6" filter="url(#blur3)"/>
<rect x="1160" y="492" width="45" height="26" fill="#3c3a14" opacity="0.5" filter="url(#blur8)"/>
<rect x="1204" y="378" width="70" height="162" fill="url(#vband)" filter="url(#blur8)"/>
<rect x="1164" y="424" width="138" height="68" fill="#1ea81e" filter="url(#blur8)"/>
<rect x="1190" y="424" width="100" height="68" fill="#38e838" filter="url(#blur5)"/>
<rect x="1262" y="383.8" width="52.8" height="151.2" fill="url(#vigR)"/>
</g>
<rect x="1209" y="427" width="59.2" height="61.3" fill="#f0fff0" filter="url(#blur1)"/>
<rect x="1211" y="429" width="55.5" height="57.5" fill="#fffdff"/>
<text transform="translate(999.3,544.2) scale(0.975,1.05)" text-anchor="end" class="ax">0</text>
<text transform="translate(1628.3,544.2) scale(0.975,1.05)" class="ax">0</text>
<text transform="translate(999.3,449.9) scale(0.975,1.05)" text-anchor="end" class="ax">20</text>
<text transform="translate(1628.3,449.9) scale(0.975,1.05)" class="ax">20</text>
<text transform="translate(999.3,355.6) scale(0.975,1.05)" text-anchor="end" class="ax">40</text>
<text transform="translate(1628.3,355.6) scale(0.975,1.05)" class="ax">40</text>
<text transform="translate(999.3,261.4) scale(0.975,1.05)" text-anchor="end" class="ax">60</text>
<text transform="translate(1628.3,261.4) scale(0.975,1.05)" class="ax">60</text>
<text transform="translate(999.3,167.1) scale(0.975,1.05)" text-anchor="end" class="ax">80</text>
<text transform="translate(1628.3,167.1) scale(0.975,1.05)" class="ax">80</text>
<text transform="translate(999.3,72.8) scale(0.975,1.05)" text-anchor="end" class="ax">100</text>
<text transform="translate(1628.3,72.8) scale(0.975,1.05)" class="ax">100</text>
<text transform="translate(1010.0,569) scale(0.975,1.05)" text-anchor="middle" class="ax">10</text>
<text transform="translate(1212.7,569) scale(0.975,1.05)" text-anchor="middle" class="ax">100</text>
<text transform="translate(1415.4,569) scale(0.975,1.05)" text-anchor="middle" class="ax">1000</text>
<text transform="translate(1618.1,569) scale(0.975,1.05)" text-anchor="middle" class="ax">10000</text>
<text transform="translate(1183,616.5) scale(1,1.05)" class="ax">Luminance (cd/m</text>
<text transform="translate(1421,598.5) scale(1,1.05)" class="ax" style="font-size:20px">2</text>
<text transform="translate(1433.3,616.5) scale(1,1.05)" class="ax">)</text>
<text transform="translate(934.5,301.7) rotate(-90) scale(1.06,0.98)" text-anchor="middle" class="ax">Current efficiency (cd/A)</text>
<text transform="translate(1711.5,303.4) rotate(-90) scale(1.063,0.98)" text-anchor="middle" class="ax">Power efficiency (lm/W)</text>
</g>
</svg>
</body></html>
